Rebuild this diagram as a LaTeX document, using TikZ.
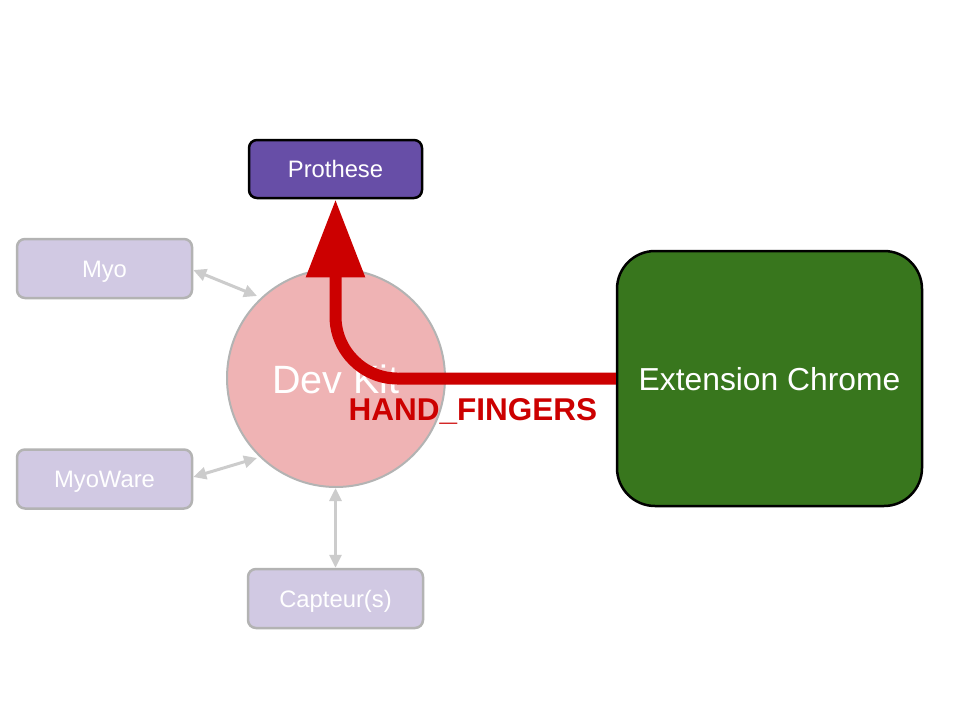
\documentclass[tikz,border=0pt]{standalone}
\usepackage{fontspec}
\setmainfont{Liberation Sans}
\usetikzlibrary{arrows.meta}
\definecolor{protfill}{HTML}{674EA7}
\definecolor{lightfill}{HTML}{D1C9E3}
\definecolor{boxgray}{HTML}{B3B3B3}
\definecolor{pinkfill}{HTML}{EFB3B4}
\definecolor{greenfill}{HTML}{38761D}
\definecolor{redline}{HTML}{CC0000}
\definecolor{arrgray}{HTML}{CCCCCC}
\tikzset{
  lightbox/.style={draw=boxgray, line width=2.5pt, fill=lightfill, rounded corners=8pt,
    minimum width=175pt, minimum height=59pt, inner sep=0pt, text=white,
    text height=17pt, text depth=0pt,
    font=\fontsize{23.8}{28}\selectfont},
  protbox/.style={draw=black, line width=2.5pt, fill=protfill, rounded corners=8pt,
    minimum width=173pt, minimum height=58pt, inner sep=0pt, text=white,
    text height=17pt, text depth=0pt,
    font=\fontsize{23.8}{28}\selectfont},
  devkit/.style={circle, draw=boxgray, line width=2pt, fill=pinkfill, minimum size=218pt,
    inner sep=0pt, text=white, text height=28.4pt, text depth=0pt,
    font=\fontsize{39.5}{44}\selectfont},
  extbox/.style={draw=black, line width=2.5pt, fill=greenfill, rounded corners=38pt,
    minimum width=305pt, minimum height=255pt, inner sep=0pt, text=white,
    text height=22.8pt, text depth=0pt,
    font=\fontsize{31.8}{36}\selectfont},
  grayarrow/.style={draw=arrgray, line width=3pt, {Triangle[length=13pt,width=12pt]}-{Triangle[length=13pt,width=12pt]}},
  redarrow/.style={draw=redline, line width=12pt, rounded corners=62pt, -{Triangle[length=78pt,width=56pt]}},
  redlabel/.style={text=redline, font=\bfseries\fontsize{31.5}{36}\selectfont, inner sep=0pt,
    text height=22.6pt, text depth=0pt}
}
\begin{document}
\begin{tikzpicture}[x=1pt,y=-1pt]
\useasboundingbox[fill=white] (0,0) rectangle (960,720);
\node[protbox] (prot) at (335.5,169) {Prothese};
\node[lightbox] (myo) at (104.5,268.5) {Myo};
\node[lightbox] (myoware) at (104.5,479) {MyoWare};
\node[lightbox] (capt) at (335.5,598.5) {Capteur(s)};
\node[devkit] (dev) at (336,378) {};
\node[text=white, font=\fontsize{39.5}{44}\selectfont, text height=28.4pt, text depth=0pt, inner sep=0pt] (devtext) at (336,379) {Dev Kit};
\node[extbox] (ext) at (769.5,378.5) {};
\node[text=white, font=\fontsize{31.8}{36}\selectfont, text height=22.8pt, text depth=0pt, inner sep=0pt] (exttext) at (769.5,379) {Extension Chrome};
\coordinate (myoA) at (195,270);
\coordinate (devA) at (257,296);
\coordinate (mwA) at (195,477);
\coordinate (devB) at (257,458);
\draw[grayarrow] (myo.east |- myoA) -- (devA);
\draw[grayarrow] (myoware.east |- mwA) -- (devB);
\draw[grayarrow] (capt.north |- dev.south) -- (capt.north);
\draw[redarrow] (ext.west) -| (prot.south);
\node[redlabel] (hf) at (473,409) {HAND\_FINGERS};
\end{tikzpicture}
\end{document}
